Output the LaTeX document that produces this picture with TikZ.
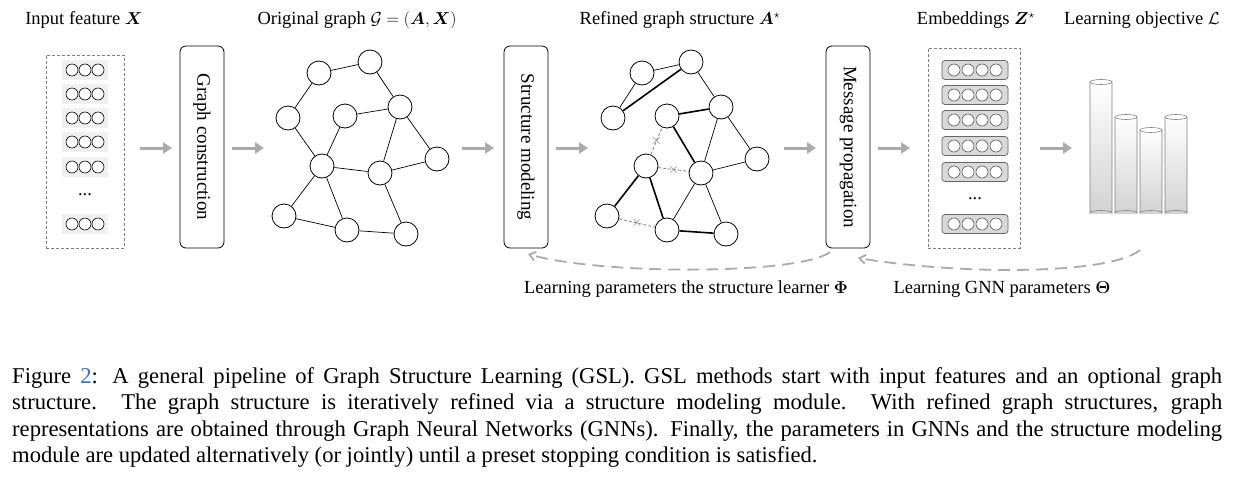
\documentclass[tikz,border=0pt]{standalone}
\usepackage{bm}
\usepackage{fontspec}
\setmainfont{Liberation Serif}
\usetikzlibrary{arrows.meta}
\definecolor{arr}{RGB}{170,170,170}
\definecolor{refblue}{RGB}{60,110,190}
\begin{document}
\begin{tikzpicture}[x=1pt,y=-1pt,
  gn/.style={circle,draw,line width=0.8pt,minimum size=24pt,inner sep=0pt,fill=white},
  ed/.style={line width=0.7pt},
  th/.style={line width=1.6pt},
  rm/.style={densely dashed,draw=gray,line width=0.8pt},
  bx/.style={draw,rounded corners=6pt,line width=0.8pt,minimum width=44pt,minimum height=202pt},
  bt/.style={rotate=-90,font=\fontsize{19}{20}\selectfont},
  pa/.style={-{Triangle[length=9pt,width=11pt]},draw=arr,line width=3pt},
  lab/.style={font=\fontsize{18.5}{20}\selectfont},
  fb/.style={-{Straight Barb[length=6pt,width=9pt]},draw=arr,dash pattern=on 12pt off 7pt,line width=1.8pt},
  cell/.style={circle,draw,line width=0.6pt,minimum size=12pt,inner sep=0pt,fill=white}]
\useasboundingbox (0,0) rectangle (1233,477);
% labels
\node[lab] (l1) at (84,20) {Input feature $\bm{X}$};
\node[lab] (l2) at (357,20) {Original graph $\mathcal{G}=(\bm{A},\bm{X})$};
\node[lab] (l3) at (680,20) {Refined graph structure $\bm{A}^{\star}$};
\node[lab] (l4) at (976,20) {Embeddings $\bm{Z}^{\star}$};
\node[lab] (l5) at (1142,20) {Learning objective $\mathcal{L}$};
% input
\node[draw=gray,densely dashed,minimum width=78pt,minimum height=193pt,line width=0.8pt] (inp) at (85,151.5) {};
\foreach \y [count=\i] in {70,94,118,142,167,224}{
  \fill[gray!12] (62,\y-10) rectangle (108,\y+10);
  \foreach \dx in {-13,0,13}\node[cell] (in\i\dx) at (85+\dx,\y) {};}
\node[lab] (indots) at (85,195) {...};
% boxes
\node[bx] (gc) at (202,147) {}; \node[bt] (gct) at (gc) {Graph construction};
\node[bx] (sm) at (526,147) {}; \node[bt] (smt) at (sm) {Structure modeling};
\node[bx] (mp) at (848,147) {}; \node[bt] (mpt) at (mp) {Message propagation};
% arrows
\foreach \a/\b [count=\i] in {140/172,232/264,462/494,556/588,784/816,878/910,1040/1072}{
  \coordinate (s\i) at (\a,148); \coordinate (t\i) at (\b,148);
  \draw[pa] (s\i) -- (t\i);}
% graph 1
\foreach \n/\x/\y in {a/319/73,b/370/62,c/288/118,d/345/116,e/400/107,f/322/166,g/380/173,h/437/159,i/284/216,j/347/230,k/406/234}
  \node[gn] (\n) at (\x,\y) {};
\foreach \u/\v in {a/b,a/c,b/e,d/e,c/f,d/f,e/g,e/h,f/g,g/h,f/i,f/j,g/k,i/j,j/k}
  \draw[ed] (\u) -- (\v);
% graph 2
\foreach \n/\x/\y in {A/642/73,B/691/62,C/613/118,D/667/116,E/721/107,F/646/166,G/701/173,H/757/159,I/607/216,J/667/230,K/726/234}
  \node[gn] (\n) at (\x,\y) {};
\foreach \u/\v in {A/B,A/C,B/E,E/G,E/H,G/H,G/J,G/K}
  \draw[ed] (\u) -- (\v);
\foreach \u/\v in {C/B,D/E,D/G,F/I,F/J,J/K}
  \draw[th] (\u) -- (\v);
\foreach \u/\v in {F/D,F/G,I/J}{
  \draw[rm] (\u) -- node[text=gray,inner sep=0pt,font=\fontsize{15}{15}\selectfont] {$\times$} (\v);}
% embeddings
\node[draw=gray,densely dashed,minimum width=92pt,minimum height=200pt,line width=0.8pt] (emb) at (974,148) {};
\foreach \y [count=\i] in {70,95,120,146,172,224}{
  \node[draw=gray!80!black,fill=gray!30,rounded corners=3pt,minimum width=66pt,minimum height=19pt,line width=0.7pt] (er\i) at (975,\y) {};
  \foreach \dx in {-21,-7,7,21}\node[cell,draw=gray!70!black] (e\i\dx) at (975+\dx,\y) {};}
\node[lab] (edots) at (975,199) {...};
% cylinders
\foreach \x/\t [count=\i] in {1101/82,1126/117,1151/130,1176/117}{
  \shade[top color=white,bottom color=gray!35] (\x-11,\t) rectangle (\x+11,213);
  \draw[gray,line width=0.6pt] (\x-11,\t) -- (\x-11,213) arc[start angle=180,end angle=360,x radius=11,y radius=2.5] -- (\x+11,\t);
  \draw[gray,fill=white,line width=0.6pt] (\x,\t) ellipse[x radius=11,y radius=2.5];
  \coordinate (cy\i) at (\x,\t);}
% feedback
\coordinate (f1s) at (1140,250); \coordinate (f1e) at (858,258);
\coordinate (f2s) at (830,252); \coordinate (f2e) at (528,254);
\draw[fb] (f1s) .. controls (1110,275) and (960,275) .. (f1e);
\draw[fb] (f2s) .. controls (800,275) and (600,275) .. (f2e);
\node[lab] (fl1) at (686,289) {Learning parameters the structure learner $\bm{\Phi}$};
\node[lab] (fl2) at (1002,289) {Learning GNN parameters $\bm{\Theta}$};
% caption
\node[anchor=north west,text width=1210pt,align=justify,inner sep=0pt,font=\fontsize{22.6}{26.5}\selectfont] (cap) at (12,367)
{Figure \textcolor{refblue}{2}: A general pipeline of Graph Structure Learning (GSL). GSL methods start with input features and an optional graph\linebreak structure. The graph structure is iteratively refined via a structure modeling module. With refined graph structures, graph\linebreak representations are obtained through Graph Neural Networks (GNNs). Finally, the parameters in GNNs and the structure modeling\linebreak module are updated alternatively (or jointly) until a preset stopping condition is satisfied.};
\end{tikzpicture}
\end{document}
